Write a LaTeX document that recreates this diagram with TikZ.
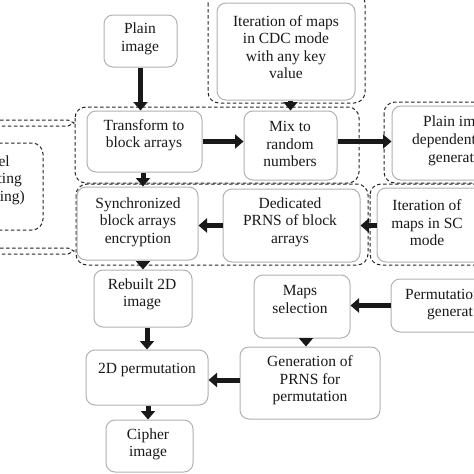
\documentclass[tikz,border=0pt]{standalone}
\usepackage{fontspec}
\setmainfont{Liberation Serif}
\usetikzlibrary{arrows.meta,calc}
\begin{document}
\begin{tikzpicture}[x=1pt,y=-1pt,
  box/.style={draw=black!30,line width=1pt,rounded corners=9pt,fill=white,inner sep=0pt},
  grp/.style={draw=black!85,line width=1pt,dash pattern=on 3.5pt off 2.5pt,rounded corners=11pt},
  txt/.style={font=\fontsize{15.5}{17.5}\selectfont,align=center,inner sep=0pt,text=black!90},
  part/.style={font=\fontsize{15.5}{17.5}\selectfont,inner sep=0pt,text=black!90},
  arr/.style={line width=5pt,-{Triangle[length=8.5pt,width=14pt]},black!90}]
\useasboundingbox (0,0) rectangle (474,474);
\clip (0,0) rectangle (474,474);
\fill[white] (0,0) rectangle (474,474);
% dashed groups
\draw[grp] (208,-8) rectangle (365,103);
\draw[grp] (75,107) rectangle (359,183);
\draw[grp] (76,184) rectangle (368,265);
\draw[grp] (370,184) rectangle (490,265);
\draw[grp] (384,102) rectangle (490,183);
\draw[grp] (-20,143) rectangle (43,230);
% hollow dashed arrows from the left
\coordinate (la1) at (74,123);
\coordinate (la2) at (74,251);
\draw[grp,rounded corners=0] (0,120) -- (68,120) -- (la1) -- (68,126) -- (0,126);
\draw[grp,rounded corners=0] (0,248) -- (68,248) -- (la2) -- (68,254) -- (0,254);
% boxes
\node[box,minimum width=73pt,minimum height=52pt] (plain) at (140.5,41) {};
\node[box,minimum width=138pt,minimum height=97pt] (cdc) at (286,51.5) {};
\node[box,minimum width=115pt,minimum height=61pt] (trans) at (144.5,141.5) {};
\node[box,minimum width=93pt,minimum height=69pt] (mix) at (290.5,145.5) {};
\node[box,minimum width=108pt,minimum height=74pt] (pdep) at (446,143) {};
\node[box,minimum width=121pt,minimum height=73pt] (sync) at (137.5,223.5) {};
\node[box,minimum width=137pt,minimum height=73pt] (ded) at (291.5,225.5) {};
\node[box,minimum width=113pt,minimum height=74pt] (sc) at (433.5,225) {};
\node[box,minimum width=98pt,minimum height=57pt] (reb) at (143,298.5) {};
\node[box,minimum width=122pt,minimum height=55pt] (perm) at (147,377.5) {};
\node[box,minimum width=87pt,minimum height=52pt] (cip) at (149.5,446) {};
\node[box,minimum width=96pt,minimum height=63pt] (maps) at (302,306.5) {};
\node[box,minimum width=140pt,minimum height=72pt] (gen) at (310,383) {};
\node[box,minimum width=109pt,minimum height=53pt] (pgen) at (445.5,305.5) {};
% texts
\node[txt] (plainT) at (140,39) {Plain\\image};
\node[txt] (cdcT) at (286,47) {Iteration of maps\\in CDC mode\\with any key\\value};
\node[txt] (transT) at (144,135) {Transform to\\block arrays};
\node[txt] (mixT) at (290,144) {Mix to\\random\\numbers};
\node[txt] (syncT) at (138,222) {Synchronized\\block arrays\\encryption};
\node[txt] (dedT) at (290,222) {Dedicated\\PRNS of block\\arrays};
\node[txt] (scT) at (427,223) {Iteration of\\maps in SC\\mode};
\node[txt] (rebT) at (142,294.5) {Rebuilt 2D\\image};
\node[txt] (permT) at (147,370) {2D permutation};
\node[txt] (cipT) at (148,444.5) {Cipher\\image};
\node[txt] (mapsT) at (300,299.5) {Maps\\selection};
\node[txt] (genT) at (310,380.5) {Generation of\\PRNS for\\permutation};
\node[part,anchor=base west] (pd1) at (423,126) {Plain im};
\node[part,anchor=base west] (pd2) at (412,144) {dependent};
\node[part,anchor=base west] (pd3) at (428,162) {generat};
\node[part,anchor=base west] (pg1) at (405,299) {Permutation};
\node[part,anchor=base west] (pg2) at (427,316) {generat};
\node[part,anchor=base east] (l1) at (10,166) {el};
\node[part,anchor=base east] (l2) at (22,183) {ting};
\node[part,anchor=base east] (l3) at (25,201) {ing)};
% arrows
\draw[arr] (plain.south) -- (plain.south |- trans.north);
\draw[arr] (mix.north |- cdc.south) -- (mix.north);
\draw[arr] (trans.east) -- (trans.east -| mix.west);
\draw[arr] (trans.east -| mix.east) -- (trans.east -| pdep.west);
\draw[arr] (sync.north |- trans.south) ++(5.5,0) coordinate (t1) -- (t1 |- sync.north);
\draw[arr] (sc.west |- ded.east) -- (ded.east);
\draw[arr] (ded.west) -- (ded.west -| sync.east);
\draw[arr] (sync.south) ++(5.5,0) coordinate (t2) -- (t2 |- reb.north);
\draw[arr] (perm.north |- reb.south) -- (perm.north);
\draw[arr] (perm.south) ++(1,0) coordinate (t3) -- (t3 |- cip.north);
\draw[arr] (maps.south) ++(4,0) coordinate (t4) -- (t4 |- gen.north);
\draw[arr] (gen.west) ++(0,-3) coordinate (t5) -- (t5 -| perm.east);
\draw[arr] (pgen.west) -- (pgen.west -| maps.east);
\end{tikzpicture}
\end{document}
